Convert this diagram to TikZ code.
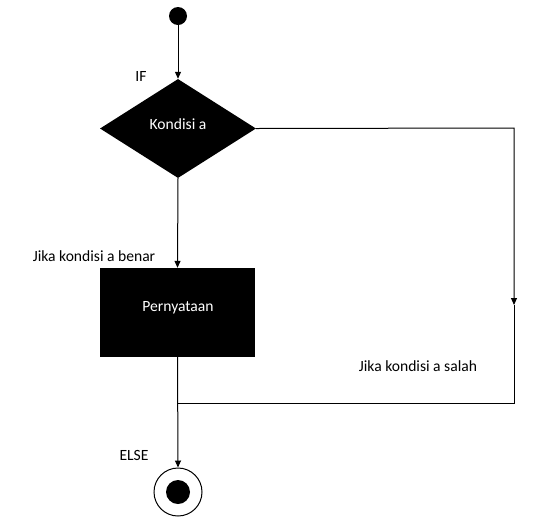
\documentclass[tikz,border=0pt]{standalone}
\usepackage{fontspec}
\setmainfont{Carlito}
\usetikzlibrary{shapes.geometric,arrows.meta}
\tikzset{
    flowline/.style={line width=1pt,-{Triangle[length=7pt,width=6pt]}},
    plainline/.style={line width=1pt},
    blackbox/.style={fill=black,text=white,inner sep=0pt},
    lbl/.style={anchor=center,inner sep=0pt}
}
\begin{document}
\begin{tikzpicture}[x=1pt,y=-1pt,font=\fontsize{15.6}{18}\selectfont]
    \useasboundingbox (0,0) rectangle (551,531);
    %% start and end states
    \node[circle,fill=black,minimum size=18pt,inner sep=0pt] (start) at (178,16) {};
    \node[circle,draw,line width=1pt,minimum size=48pt,inner sep=0pt] (stop) at (178,492) {};
    \node[circle,fill=black,minimum size=24pt,inner sep=0pt] (stopdot) at (178,492) {};
    %% decision and statement
    \node[blackbox,diamond,minimum width=156pt,minimum height=99pt] (cond) at (178,128.5) {};
    \node[lbl,text=white] (condtext) at (178,124) {Kondisi a};
    \node[blackbox,rectangle,minimum width=155pt,minimum height=89pt] (stmt) at (177.5,312.5) {};
    \node[lbl,text=white] (stmttext) at (178,308) {Pernyataan};
    %% labels
    \node[lbl] (iflbl) at (141,76) {IF};
    \node[lbl] (truelbl) at (94,256) {Jika kondisi a benar};
    \node[lbl] (elselbl) at (134,455) {ELSE};
    \node[lbl] (falselbl) at (418,366) {Jika kondisi a salah};
    %% connectors
    \coordinate (rtop) at (514,128);
    \coordinate (rmid) at (514,305);
    \coordinate (rbot) at (514,403);
    \coordinate (join) at (178,403);
    \draw[flowline] (start) -- (cond.north);
    \draw[flowline] (cond.south) -- (stmt.north);
    \draw[flowline] (stmt.south) -- (stop.north);
    \draw[flowline] (cond.east) -- (rtop) -- (rmid);
    \draw[plainline] (rmid) -- (rbot) -- (join);
\end{tikzpicture}
\end{document}
